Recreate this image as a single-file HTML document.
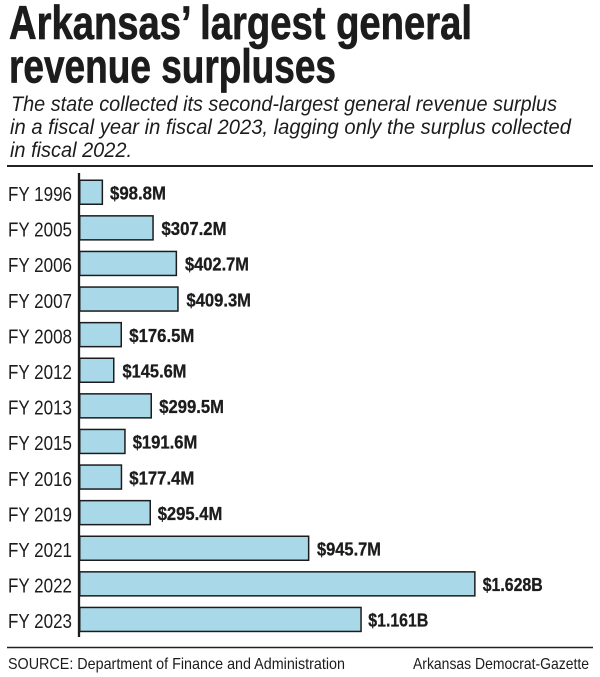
<!DOCTYPE html>
<html>
<head>
<meta charset="utf-8">
<style>
html,body{margin:0;padding:0;background:#fff;}
svg{display:block;}
text{font-family:"Liberation Sans",Arial,sans-serif;fill:#1c1c1c;}
</style>
</head>
<body>
<svg width="600" height="677" viewBox="0 0 600 677" xmlns="http://www.w3.org/2000/svg">
<rect x="0" y="0" width="600" height="677" fill="#ffffff"/>
<!-- Title -->
<text x="9" y="39" font-size="47" font-weight="bold" stroke="#1c1c1c" stroke-width="0.7" textLength="463" lengthAdjust="spacingAndGlyphs">Arkansas’ largest general</text>
<text x="9" y="82.5" font-size="47" font-weight="bold" stroke="#1c1c1c" stroke-width="0.7" textLength="327" lengthAdjust="spacingAndGlyphs">revenue surpluses</text>
<!-- Subtitle -->
<text x="11" y="111" font-size="21" font-style="italic" fill="#222" textLength="546" lengthAdjust="spacingAndGlyphs">The state collected its second-largest general revenue surplus</text>
<text x="10" y="134" font-size="21" font-style="italic" fill="#222" textLength="561" lengthAdjust="spacingAndGlyphs">in a fiscal year in fiscal 2023, lagging only the surplus collected</text>
<text x="10" y="157" font-size="21" font-style="italic" fill="#222" textLength="122" lengthAdjust="spacingAndGlyphs">in fiscal 2022.</text>
<!-- Top rule -->
<line x1="7" y1="166" x2="593" y2="166" stroke="#222" stroke-width="2"/>

<!-- Bars -->
<g stroke="#1c1c1c" stroke-width="1.5" fill="#a9d9e9">
<rect x="79.75" y="180.25" width="22.6" height="24"/>
<rect x="79.75" y="215.85" width="73.3" height="24"/>
<rect x="79.75" y="251.45" width="96.6" height="24"/>
<rect x="79.75" y="287.05" width="98.2" height="24"/>
<rect x="79.75" y="322.65" width="41.5" height="24"/>
<rect x="79.75" y="358.25" width="34.0" height="24"/>
<rect x="79.75" y="393.85" width="71.5" height="24"/>
<rect x="79.75" y="429.45" width="45.2" height="24"/>
<rect x="79.75" y="465.05" width="41.7" height="24"/>
<rect x="79.75" y="500.65" width="70.5" height="24"/>
<rect x="79.75" y="536.25" width="228.9" height="24"/>
<rect x="79.75" y="571.85" width="395.1" height="24"/>
<rect x="79.75" y="607.45" width="281.3" height="24"/>
</g>
<!-- Axis -->
<line x1="79" y1="173" x2="79" y2="637" stroke="#1c1c1c" stroke-width="2.3"/>

<!-- Category labels -->
<g font-size="20">
<text x="8" y="201" textLength="64" lengthAdjust="spacingAndGlyphs">FY 1996</text>
<text x="8" y="236.6" textLength="64" lengthAdjust="spacingAndGlyphs">FY 2005</text>
<text x="8" y="272.2" textLength="64" lengthAdjust="spacingAndGlyphs">FY 2006</text>
<text x="8" y="307.8" textLength="64" lengthAdjust="spacingAndGlyphs">FY 2007</text>
<text x="8" y="343.4" textLength="64" lengthAdjust="spacingAndGlyphs">FY 2008</text>
<text x="8" y="379" textLength="64" lengthAdjust="spacingAndGlyphs">FY 2012</text>
<text x="8" y="414.6" textLength="64" lengthAdjust="spacingAndGlyphs">FY 2013</text>
<text x="8" y="450.2" textLength="64" lengthAdjust="spacingAndGlyphs">FY 2015</text>
<text x="8" y="485.8" textLength="64" lengthAdjust="spacingAndGlyphs">FY 2016</text>
<text x="8" y="521.4" textLength="64" lengthAdjust="spacingAndGlyphs">FY 2019</text>
<text x="8" y="557" textLength="64" lengthAdjust="spacingAndGlyphs">FY 2021</text>
<text x="8" y="592.6" textLength="64" lengthAdjust="spacingAndGlyphs">FY 2022</text>
<text x="8" y="628.2" textLength="64" lengthAdjust="spacingAndGlyphs">FY 2023</text>
</g>

<!-- Value labels -->
<g font-size="18" font-weight="bold" stroke="#1c1c1c" stroke-width="0.3">
<text x="110" y="199.5" textLength="56" lengthAdjust="spacingAndGlyphs">$98.8M</text>
<text x="161.5" y="235.1" textLength="65" lengthAdjust="spacingAndGlyphs">$307.2M</text>
<text x="185" y="270.7" textLength="64" lengthAdjust="spacingAndGlyphs">$402.7M</text>
<text x="186.5" y="306.3" textLength="64.5" lengthAdjust="spacingAndGlyphs">$409.3M</text>
<text x="129.3" y="341.9" textLength="65" lengthAdjust="spacingAndGlyphs">$176.5M</text>
<text x="122.5" y="377.5" textLength="64" lengthAdjust="spacingAndGlyphs">$145.6M</text>
<text x="159.3" y="413.1" textLength="64.7" lengthAdjust="spacingAndGlyphs">$299.5M</text>
<text x="132.7" y="448.7" textLength="64.6" lengthAdjust="spacingAndGlyphs">$191.6M</text>
<text x="129.3" y="484.3" textLength="65" lengthAdjust="spacingAndGlyphs">$177.4M</text>
<text x="157.7" y="519.9" textLength="64.6" lengthAdjust="spacingAndGlyphs">$295.4M</text>
<text x="317" y="555.5" textLength="64" lengthAdjust="spacingAndGlyphs">$945.7M</text>
<text x="482.7" y="591.1" textLength="60" lengthAdjust="spacingAndGlyphs">$1.628B</text>
<text x="368.3" y="626.7" textLength="60" lengthAdjust="spacingAndGlyphs">$1.161B</text>
</g>

<!-- Footer -->
<line x1="7" y1="647.5" x2="593" y2="647.5" stroke="#222" stroke-width="1.5"/>
<text x="8" y="669" font-size="16" textLength="337" lengthAdjust="spacingAndGlyphs">SOURCE: Department of Finance and Administration</text>
<text x="413" y="669" font-size="16" textLength="176" lengthAdjust="spacingAndGlyphs">Arkansas Democrat-Gazette</text>
</svg>
</body>
</html>
